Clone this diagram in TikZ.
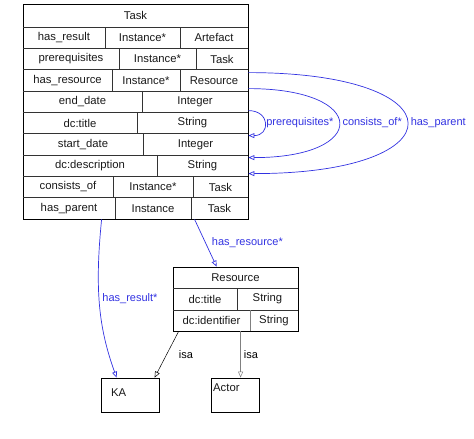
\documentclass[tikz,border=0pt]{standalone}
\usepackage{fontspec}
\setmainfont{Liberation Sans}
\usetikzlibrary{arrows.meta}
\definecolor{linkblue}{RGB}{50,50,225}
\tikzset{
  cell/.style={inner sep=0pt, text=black!90, font=\fontsize{11.3}{13}\selectfont},
  frame/.style={draw, line width=0.8pt, inner sep=0pt},
  divider/.style={black!80, line width=0.6pt},
  link/.style={linkblue, line width=0.7pt, -{Triangle[open, length=6pt, width=5pt]}},
  isalink/.style={line width=0.5pt, -{Triangle[open, length=6pt, width=5pt]}},
  linklabel/.style={inner sep=1pt, font=\fontsize{11}{13}\selectfont},
}
\begin{document}
\begin{tikzpicture}[x=1pt, y=-1pt]
  \useasboundingbox (0,0) rectangle (474,439);
  % task table
  \node[frame, minimum width=225pt, minimum height=215pt] (task) at (135.5,111.5) {};
  \node[cell] (taskhead) at (135.5,15.5) {Task};
  \foreach \i in {0,...,8}{\draw[divider] (23,27+21.33*\i) -- (248,27+21.33*\i);}
  \foreach \i/\a/\b/\c/\u/\v in {1/has\_result/Instance*/Artefact/105/180,
      2/prerequisites/Instance*/Task/119/196, 3/has\_resource/Instance*/Resource/112/180,
      8/consists\_of/Instance*/Task/113/193, 9/has\_parent/Instance/Task/115/191}{
    \draw[divider] (\u,5.67+21.33*\i) -- +(0,21.33);
    \draw[divider] (\v,5.67+21.33*\i) -- +(0,21.33);
    \node[cell] (attr\i) at ({(23+\u)/2},16.33+21.33*\i) {\a};
    \node[cell] (type\i) at ({(\u+\v)/2},16.33+21.33*\i) {\b};
    \node[cell] (range\i) at ({(\v+248)/2},16.33+21.33*\i) {\c};
  }
  \foreach \i/\a/\b/\u in {4/end\_date/Integer/142, 5/dc:title/String/137,
      6/start\_date/Integer/143, 7/dc:description/String/157}{
    \draw[divider] (\u,5.67+21.33*\i) -- +(0,21.33);
    \node[cell] (attr\i) at ({(23+\u)/2},16.33+21.33*\i) {\a};
    \node[cell] (type\i) at ({(\u+248)/2},16.33+21.33*\i) {\b};
  }
  % resource table
  \node[frame, minimum width=125pt, minimum height=64pt] (res) at (235.5,299) {};
  \node[cell] (reshead) at (235.5,277.5) {Resource};
  \draw[divider] (173,288) -- (298,288);
  \draw[divider] (173,310) -- (298,310);
  \draw[divider] (237,288) -- (237,310);
  \draw[divider, gray] (250,310) -- (250,331);
  \node[cell] (restitle) at (205,299) {dc:title};
  \node[cell] (restitletype) at (267.5,299) {String};
  \node[cell] (resid) at (211.5,320.5) {dc:identifier};
  \node[cell] (residtype) at (274,320.5) {String};
  % subclasses
  \node[frame, minimum width=58pt, minimum height=34pt] (ka) at (130,395) {};
  \node[cell, anchor=west] (kaname) at (111,393) {KA};
  \node[frame, minimum width=48pt, minimum height=34pt] (actor) at (235,395) {};
  \node[cell, anchor=west] (actorname) at (213,388) {Actor};
  % links
  \draw[link] ([xshift=79pt]task.south west) .. controls +(-7,70) and +(-18,-50) .. ([xshift=16pt]ka.north west)
    node[linklabel, linkblue, pos=0.45, anchor=west, xshift=2pt] {has\_result*};
  \draw[link] ([xshift=172pt]task.south west) -- ([xshift=44pt]res.north west)
    node[linklabel, linkblue, pos=0.5, anchor=west, xshift=5pt] {has\_resource*};
  \draw[link] ([yshift=-107pt]task.north east) .. controls +(22,0) and +(22,0) .. ([yshift=-132pt]task.north east)
    node[linklabel, linkblue, pos=0.5, anchor=west] {prerequisites*};
  \draw[link] ([yshift=-85pt]task.north east) .. controls +(121,0) and +(121,0) .. ([yshift=-154pt]task.north east)
    node[linklabel, linkblue, pos=0.5, anchor=west, xshift=2pt] {consists\_of*};
  \draw[link] ([yshift=-69pt]task.north east) .. controls +(212,0) and +(212,0) .. ([yshift=-170pt]task.north east)
    node[linklabel, linkblue, pos=0.5, anchor=west, xshift=2pt] {has\_parent};
  % isa
  \draw[isalink] ([xshift=6pt]res.south west) -- ([xshift=54pt]ka.north west)
    node[linklabel, pos=0.5, anchor=west, xshift=11pt] {isa};
  \draw[isalink, gray] ([xshift=68pt]res.south west) -- ([xshift=30pt]actor.north west)
    node[linklabel, black, pos=0.5, anchor=west, xshift=2pt] {isa};
\end{tikzpicture}
\end{document}
